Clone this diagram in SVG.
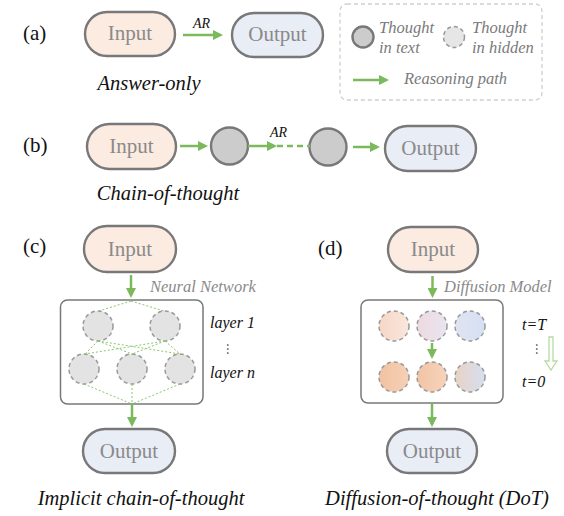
<svg xmlns="http://www.w3.org/2000/svg" width="564" height="516" viewBox="0 0 564 516">
<defs>
<marker id="ah" viewBox="0 0 10 10" refX="7" refY="5" markerWidth="10" markerHeight="10" markerUnits="userSpaceOnUse" orient="auto">
<path d="M0,0 L10,5 L0,10 z" fill="#7cb95c"/>
</marker>
<linearGradient id="r1a"><stop offset="0" stop-color="#f6d7c5"/><stop offset="1" stop-color="#f9e7dd"/></linearGradient>
<linearGradient id="r1b"><stop offset="0" stop-color="#eed9df"/><stop offset="1" stop-color="#e9e5f0"/></linearGradient>
<linearGradient id="r1c"><stop offset="0" stop-color="#e0e4f0"/><stop offset="1" stop-color="#d5e0f4"/></linearGradient>
<linearGradient id="r2a"><stop offset="0" stop-color="#f2c2a2"/><stop offset="1" stop-color="#f6d0b6"/></linearGradient>
<linearGradient id="r2b"><stop offset="0" stop-color="#f2c4a5"/><stop offset="1" stop-color="#f6d3bb"/></linearGradient>
<linearGradient id="r2c"><stop offset="0" stop-color="#ead2c5"/><stop offset="1" stop-color="#d5dff0"/></linearGradient>
</defs>

<g font-family="Liberation Serif" font-size="21" fill="#111">
<text x="23" y="40">(a)</text>
<text x="23" y="152">(b)</text>
<text x="23" y="253">(c)</text>
<text x="318" y="255">(d)</text>
</g>

<g id="legend">
<rect x="340" y="4" width="202" height="96" rx="7" fill="none" stroke="#cfcfcf" stroke-width="1.3" stroke-dasharray="4 3"/>
<circle cx="363" cy="37" r="10.5" fill="#cccccc" stroke="#787878" stroke-width="2.4"/>
<circle cx="454" cy="37" r="10.5" fill="#e6e6e6" stroke="#999" stroke-width="1.5" stroke-dasharray="4 3"/>
<line x1="353" y1="80" x2="386" y2="80" stroke="#7cb95c" stroke-width="2.5" marker-end="url(#ah)"/>
<g font-family="Liberation Serif" font-size="16.5" font-style="italic" fill="#7a7a7a">
<text x="379" y="33">Thought</text>
<text x="379" y="52.5">in text</text>
<text x="472" y="33">Thought</text>
<text x="472" y="52.5">in hidden</text>
<text x="404" y="84">Reasoning path</text>
</g>
</g>

<g stroke="#787878" stroke-width="2.4">
<g id="a-input"><rect fill="#fcebe1" x="85" y="12" width="90" height="44" rx="22"/></g>
<g id="a-output"><rect fill="#e9edf6" x="232" y="13" width="91" height="44" rx="22"/></g>
<g id="b-input"><rect fill="#fcebe1" x="87" y="124" width="89" height="45" rx="22.5"/></g>
<g id="b-output"><rect fill="#e9edf6" x="385" y="126" width="91" height="45" rx="22.5"/></g>
<g id="c-input"><rect fill="#fcebe1" x="84" y="226" width="92" height="46" rx="23"/></g>
<g id="c-output"><rect fill="#e9edf6" x="83" y="429" width="92" height="44" rx="22"/></g>
<g id="d-input"><rect fill="#fcebe1" x="388" y="227" width="90" height="45" rx="22.5"/></g>
<g id="d-output"><rect fill="#e9edf6" x="387" y="429" width="90" height="44" rx="22"/></g>
<g id="b-t1"><circle fill="#cccccc" cx="229.5" cy="146" r="18.5"/></g>
<g id="b-t2"><circle fill="#cccccc" cx="328" cy="147" r="18.5"/></g>
</g>
<g font-family="Liberation Serif" font-size="21" fill="#8a8a8a" text-anchor="middle">
<text x="130" y="40">Input</text>
<text x="277.5" y="41">Output</text>
<text x="131.5" y="153">Input</text>
<text x="430.5" y="155">Output</text>
<text x="130" y="255.5">Input</text>
<text x="129" y="458">Output</text>
<text x="433" y="256">Input</text>
<text x="432" y="458">Output</text>
</g>

<g id="c-nn">
<rect x="60.5" y="300" width="142.5" height="104" rx="7" fill="none" stroke="#787878" stroke-width="1.5"/>
<g fill="#e3e3e3" stroke="#999" stroke-width="1.5" stroke-dasharray="4 3">
<circle cx="98" cy="326" r="15"/>
<circle cx="165" cy="326" r="15"/>
<circle cx="84" cy="369" r="15"/>
<circle cx="132" cy="369" r="15"/>
<circle cx="180" cy="369" r="15"/>
</g>
</g>

<g id="d-dm">
<rect x="361" y="300" width="142" height="103" rx="7" fill="none" stroke="#787878" stroke-width="1.5"/>
<g stroke="#999" stroke-width="1.5" stroke-dasharray="4 3">
<circle cx="394" cy="326" r="15" fill="url(#r1a)"/>
<circle cx="432" cy="326" r="15" fill="url(#r1b)"/>
<circle cx="470" cy="326" r="15" fill="url(#r1c)"/>
<circle cx="394" cy="377" r="15" fill="url(#r2a)"/>
<circle cx="432" cy="377" r="15" fill="url(#r2b)"/>
<circle cx="470" cy="377" r="15" fill="url(#r2c)"/>
</g>
</g>
<path d="M549,337 L553,337 L553,361 L557,361 L551,370 L545,361 L549,361 Z" fill="#fff" stroke="#b5dca0" stroke-width="1.3"/>

<g font-family="Liberation Serif" font-size="20.5" font-style="italic" fill="#111" text-anchor="middle">
<text x="149" y="90">Answer-only</text>
<text x="168" y="200">Chain-of-thought</text>
<text x="141" y="505">Implicit chain-of-thought</text>
<text x="437" y="505">Diffusion-of-thought (DoT)</text>
</g>
<g font-family="Liberation Serif" font-size="16.5" font-style="italic" fill="#8a8a8a">
<text x="150" y="292">Neural Network</text>
<text x="444" y="292">Diffusion Model</text>
</g>
<g font-family="Liberation Serif" font-size="16" font-style="italic" fill="#111">
<text x="210" y="328">layer 1</text>
<text x="210" y="378">layer n</text>
<text x="522" y="330">t=T</text>
<text x="522" y="387">t=0</text>
</g>
<g font-family="Liberation Serif" font-size="12" fill="#111" text-anchor="middle">
<text transform="translate(227,349) rotate(90)">…</text>
<text transform="translate(536,349) rotate(90)">…</text>
</g>

<g id="connectors">
<g stroke="#7cb95c" stroke-width="2.5" fill="none">
<line x1="183" y1="35" x2="220" y2="35" marker-end="url(#ah)"/>
<line x1="180" y1="146" x2="205" y2="146" marker-end="url(#ah)"/>
<line x1="248" y1="146" x2="274" y2="146" marker-end="url(#ah)"/>
<line x1="277" y1="146" x2="310" y2="146" stroke-dasharray="6 4"/>
<line x1="353" y1="147" x2="377" y2="147" marker-end="url(#ah)"/>
<line x1="131" y1="275" x2="131" y2="295" marker-end="url(#ah)"/>
<line x1="132" y1="404" x2="132" y2="424" marker-end="url(#ah)"/>
<line x1="432.5" y1="276" x2="432.5" y2="295" marker-end="url(#ah)"/>
<line x1="432" y1="343" x2="432" y2="356" marker-end="url(#ah)"/>
<line x1="432" y1="403" x2="432" y2="424" marker-end="url(#ah)"/>
</g>
<g stroke="#8cc66b" stroke-width="1" stroke-dasharray="2 2" fill="none">
<path d="M131,301 L99,311 M131,301 L164,311"/>
<path d="M98,341 L85,354 M98,341 L132,354 M98,341 L180,354"/>
<path d="M165,341 L85,354 M165,341 L132,354 M165,341 L180,354"/>
<path d="M84,384 L132,404 M132,384 L132,404 M180,384 L132,404"/>
</g>
<g font-family="Liberation Serif" font-size="14" font-style="italic" fill="#111">
<text x="193" y="28">AR</text>
<text x="270" y="137">AR</text>
</g>
</g>
</svg>
